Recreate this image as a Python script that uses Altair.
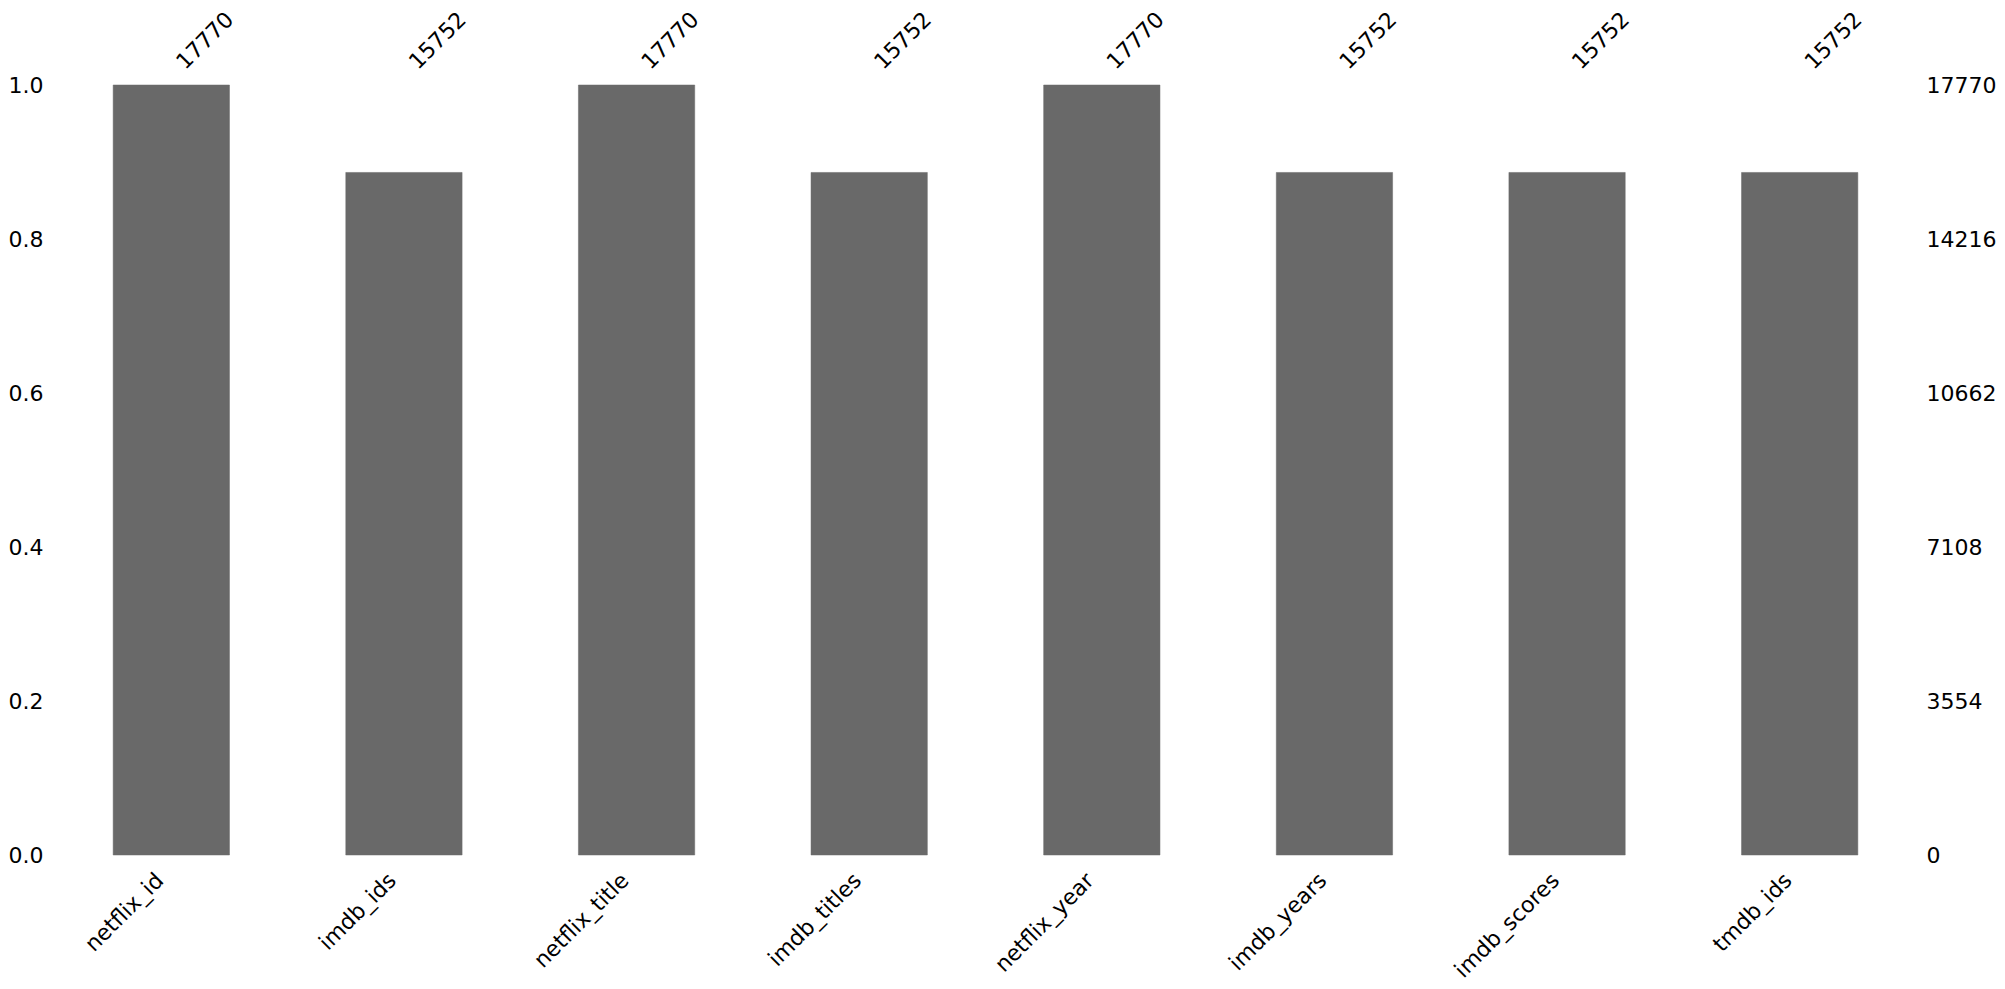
import altair as alt
import pandas as pd

columns = ["netflix_id", "imdb_ids", "netflix_title", "imdb_titles",
           "netflix_year", "imdb_years", "imdb_scores", "tmdb_ids"]
counts = [17770, 15752, 17770, 15752, 17770, 15752, 15752, 15752]
total_rows = 17770
left_ticks = [0.0, 0.2, 0.4, 0.6, 0.8, 1.0]
right_tick_labels = [0, 3554, 7108, 10662, 14216, 17770]

df = pd.DataFrame({
    "column": columns,
    "count": counts,
    "fraction": [c / total_rows for c in counts],
})

FONT = "DejaVu Sans"
BAR = "#696969"

cats_js = "[" + ",".join("'%s'" % c for c in columns) + "]"
counts_js = "[" + ",".join("'%d'" % c for c in counts) + "]"
ticks_js = "[" + ",".join("%g" % t for t in left_ticks) + "]"
rlabels_js = "[" + ",".join("'%d'" % v for v in right_tick_labels) + "]"

x_scale = alt.Scale(domain=columns, paddingInner=0.5, paddingOuter=0.25)
y_scale = alt.Scale(domain=[0, 1])

bars = alt.Chart(df).mark_bar(color=BAR, stroke=BAR, strokeWidth=0.5).encode(
    x=alt.X("column:N", sort=columns, scale=x_scale, title=None,
            axis=alt.Axis(orient="bottom", labelAngle=-45, labelAlign="right",
                          labelBaseline="bottom", labelPadding=30, labelOffset=-3,
                          ticks=False, grid=False,
                          domain=False, labelFontSize=22, labelFont=FONT,
                          labelColor="black", labelLimit=400)),
    y=alt.Y("fraction:Q", scale=y_scale, title=None,
            axis=alt.Axis(orient="left", values=left_ticks, format=".1f",
                          ticks=False, domain=False, grid=False,
                          labelPadding=12, labelFontSize=22, labelFont=FONT,
                          labelColor="black")),
)

overlay = alt.Chart(df).mark_bar(opacity=0).encode(
    x=alt.X("column:N", sort=columns, scale=x_scale, title=None,
            axis=alt.Axis(orient="top", labelAngle=-45, labelAlign="left",
                          labelBaseline="top", labelPadding=27, labelOffset=2,
                          ticks=False, grid=False,
                          domain=False, labelFontSize=22, labelFont=FONT,
                          labelColor="black",
                          labelExpr=f"{counts_js}[indexof({cats_js}, datum.value)]")),
    y=alt.Y("fraction:Q", scale=y_scale, title=None,
            axis=alt.Axis(orient="right", values=left_ticks,
                          ticks=False, domain=False, grid=False,
                          labelPadding=10, labelFontSize=22, labelFont=FONT,
                          labelColor="black",
                          labelExpr=f"{rlabels_js}[indexof({ticks_js}, datum.value)]")),
)

chart = alt.layer(bars, overlay).resolve_axis(x="independent", y="independent").properties(
    width=1861,
    height=770,
    background="white",
    autosize=alt.AutoSizeParams(type="none"),
    padding={"left": 47, "top": 77, "right": 80, "bottom": 126},
).configure_view(strokeWidth=0, stroke="transparent")

chart.save("out.html", embed_options={"renderer": "svg", "actions": False})
